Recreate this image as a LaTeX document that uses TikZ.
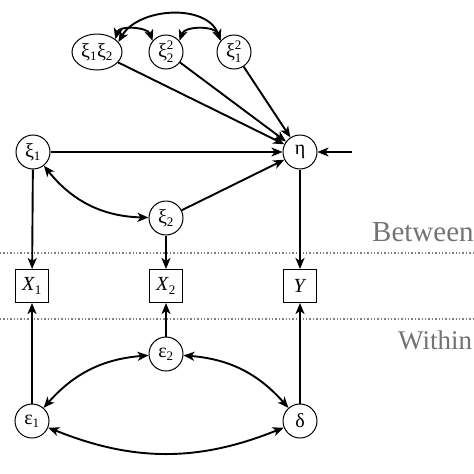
\documentclass[tikz,border=0pt]{standalone}
\usepackage{fontspec}
\setmainfont{Liberation Serif}
\usetikzlibrary{arrows.meta,shapes.geometric}
\newcommand\ssb[2]{$^{\mbox{\fontsize{13}{13}\selectfont #1}}_{\mbox{\fontsize{13}{13}\selectfont #2}}$}
\newcommand\sbs[1]{\textsubscript{\fontsize{13}{13}\selectfont #1}}
\begin{document}
\begin{tikzpicture}[x=1pt,y=-1pt,
  lat/.style={circle,draw,line width=1pt,minimum size=34pt,inner sep=0pt,font=\fontsize{20}{22}\selectfont},
  obs/.style={rectangle,draw,line width=1pt,minimum size=33pt,inner sep=0pt,font=\fontsize{20}{22}\selectfont},
  arr/.style={line width=1.9pt,-{Stealth[length=11pt,width=9pt,inset=3pt]}},
  darr/.style={line width=1.9pt,{Stealth[length=11pt,width=9pt,inset=3pt]}-{Stealth[length=11pt,width=9pt,inset=3pt]}},
  sep/.style={gray,line width=1.4pt,dotted},
  lvl/.style={text=gray!90!black,inner sep=0pt}]
\useasboundingbox (0,0) rectangle (474,474);
\node[lat,ellipse,minimum width=50pt,minimum height=36pt,inner sep=0pt] (e12) at (97,52) {ξ\sbs{1}ξ\sbs{2}};
\node[lat] (s22) at (166,52) {ξ\ssb{2}{2}};
\node[lat] (s11) at (234,52) {ξ\ssb{2}{1}};
\node[lat] (xi1) at (33,152) {ξ\sbs{1}};
\node[lat] (eta) at (300,152) {η};
\node[lat] (xi2) at (166,218) {ξ\sbs{2}};
\node[obs] (X1) at (32,286) {\textit{X}\sbs{1}};
\node[obs] (X2) at (166,286) {\textit{X}\sbs{2}};
\node[obs] (Y) at (300,286) {\textit{Y}};
\node[lat] (eps2) at (166,354) {ε\sbs{2}};
\node[lat] (eps1) at (32,421) {ε\sbs{1}};
\node[lat] (del) at (300,421) {δ};
\coordinate (in) at (352,152);
\draw[sep] (0,253) -- (474,253);
\draw[sep] (0,319) -- (474,319);
\node[lvl,anchor=base west,font=\fontsize{29}{32}\selectfont] (bt) at (372,241) {Between};
\node[lvl,anchor=base west,font=\fontsize{27}{30}\selectfont] (wi) at (398,349) {Within};
\draw[darr] (e12.25) to[out=60,in=110] (s11.140);
\draw[darr] (e12.35) to[out=75,in=110] (s22.140);
\draw[darr] (s22.40) to[out=70,in=110] (s11.140);
\draw[arr] (e12) -- (eta);
\draw[arr] (s22) -- (eta);
\draw[arr] (s11) -- (eta);
\draw[arr] (xi1) -- (eta);
\draw[arr] (xi2) -- (eta);
\draw[arr] (in) -- (eta);
\draw[darr] (xi1) to[bend right=25] (xi2);
\draw[arr] (xi1) -- (X1);
\draw[arr] (xi2) -- (X2);
\draw[arr] (eta) -- (Y);
\draw[arr] (eps1) -- (X1);
\draw[arr] (eps2) -- (X2);
\draw[arr] (del) -- (Y);
\draw[darr] (eps1) to[bend left=22] (eps2);
\draw[darr] (eps2) to[bend left=22] (del);
\draw[darr] (eps1) to[bend right=22] (del);
\end{tikzpicture}
\end{document}
